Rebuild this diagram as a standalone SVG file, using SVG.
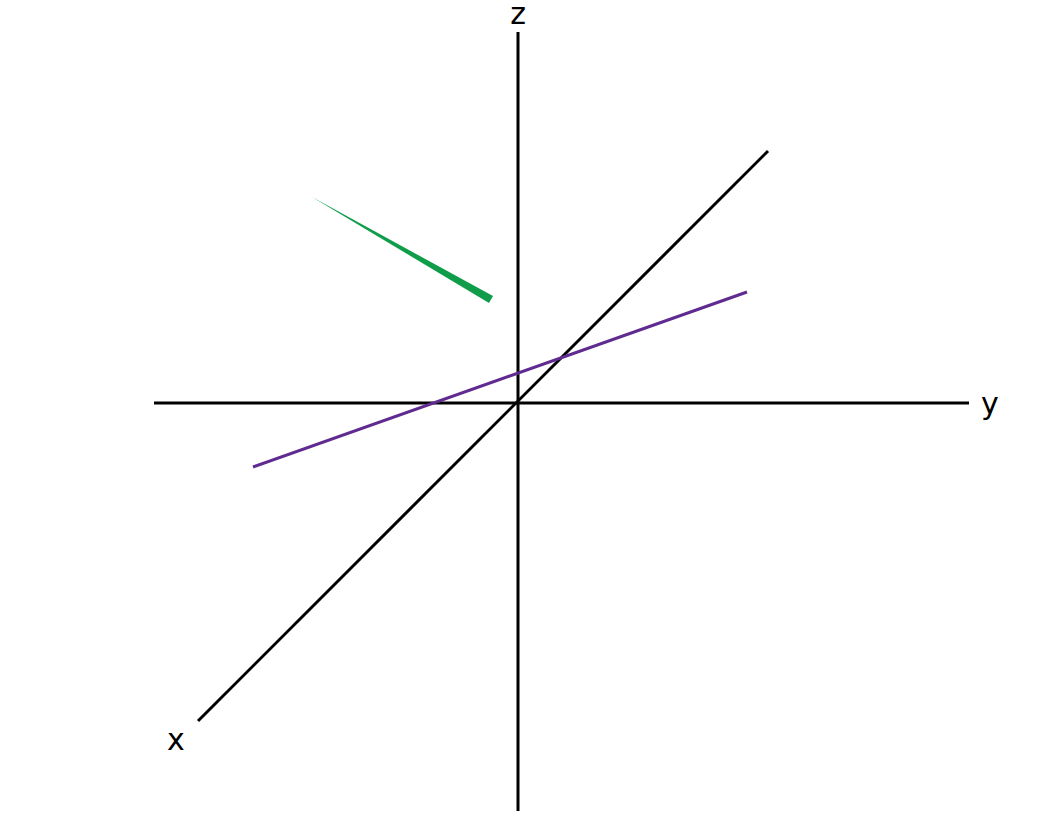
<svg xmlns="http://www.w3.org/2000/svg" width="1039" height="825" viewBox="0 0 1039 825">
<style>
.axis{stroke:#000;stroke-width:3;fill:none}
.lbl{font-family:"DejaVu Sans",sans-serif;font-size:30px;fill:#000;text-anchor:middle}
</style>
<rect width="1039" height="825" fill="#fff"/>
<g id="connectors">
<line class="axis" x1="518" y1="32" x2="518" y2="811"/>
<line class="axis" x1="154" y1="403" x2="969" y2="403"/>
<line class="axis" x1="198" y1="721" x2="768" y2="151"/>
</g>
<g id="purple-line"><line x1="253" y1="467" x2="747" y2="292" stroke="#5f2b90" stroke-width="3"/></g>
<g id="green-wedge"><polygon points="312,197 493,296 489,303" fill="#0f9d4a"/></g>
<g id="label-z"><text class="lbl" x="518" y="24">z</text></g>
<g id="label-y"><text class="lbl" x="990" y="414">y</text></g>
<g id="label-x"><text class="lbl" x="176" y="750">x</text></g>
</svg>
